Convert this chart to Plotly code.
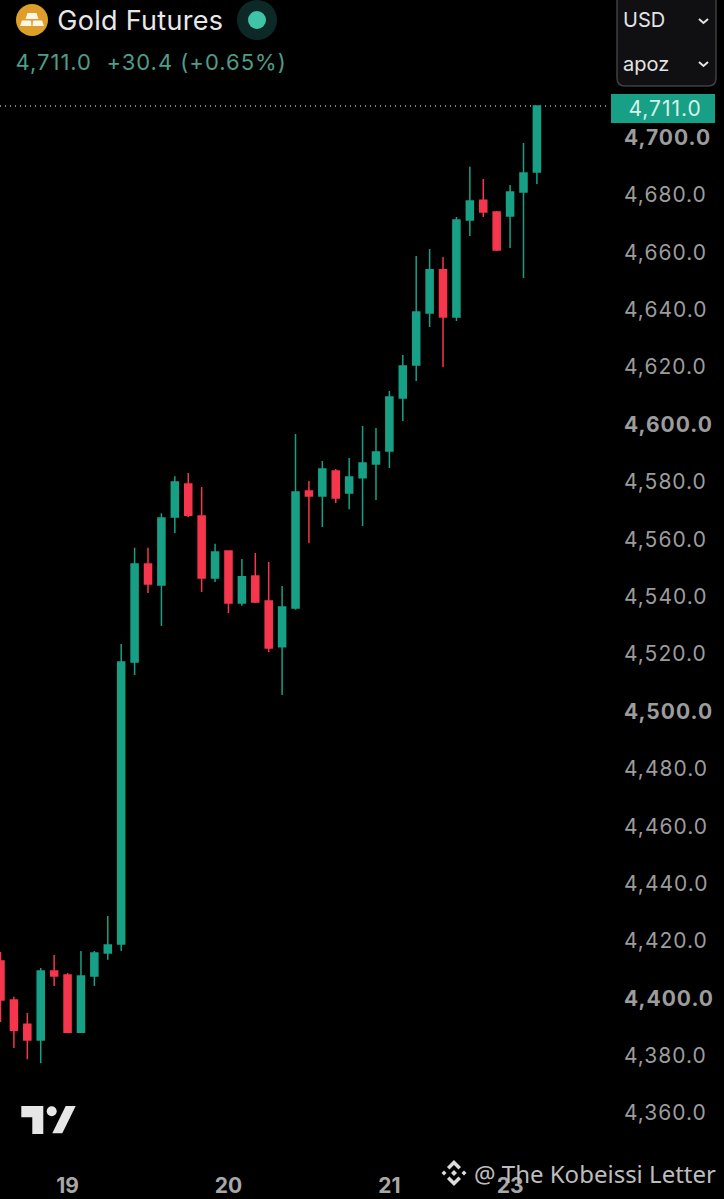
import plotly.graph_objects as go

# candle slots
idx = list(range(41))
opens = [4413.0, 4399.4, 4391.0, 4385.5, 4409.5, 4408.1, 4388.2, 4407.8, 4415.8, 4418.9,
         4517.2, 4551.4, 4544.1, 4567.8, 4579.3, 4568.1, 4546.5, 4555.9, 4537.8, 4547.2,
         4538.5, 4522.5, 4536.0, 4576.8, 4575.1, 4583.8, 4576.1, 4581.4, 4586.2, 4590.8,
         4609.2, 4620.7, 4638.9, 4653.9, 4637.5, 4671.3, 4678.2, 4674.1, 4672.7, 4681.0, 4688.0]
highs = [4416.1, 4400.5, 4394.9, 4410.6, 4415.1, 4408.8, 4416.5, 4416.5, 4428.7, 4523.5,
         4557.0, 4557.0, 4569.1, 4582.0, 4583.1, 4578.2, 4558.4, 4555.9, 4553.1, 4555.2,
         4552.1, 4543.7, 4596.7, 4580.3, 4587.3, 4584.5, 4588.3, 4599.5, 4598.8, 4611.7,
         4624.2, 4658.7, 4661.2, 4658.4, 4672.3, 4689.8, 4685.6, 4674.4, 4683.5, 4698.1, 4711.0]
lows = [4391.7, 4382.7, 4378.8, 4377.4, 4404.3, 4387.9, 4388.2, 4404.3, 4413.4, 4416.5,
        4512.7, 4541.3, 4529.8, 4562.2, 4567.8, 4541.6, 4545.1, 4534.3, 4536.8, 4537.8,
        4520.7, 4505.7, 4535.4, 4558.7, 4564.3, 4572.6, 4570.5, 4564.6, 4573.7, 4584.8,
        4601.2, 4615.2, 4634.0, 4620.0, 4636.1, 4665.7, 4672.3, 4660.5, 4661.5, 4651.1, 4683.8]
closes = [4399.4, 4388.9, 4385.5, 4409.5, 4407.8, 4388.2, 4407.8, 4415.8, 4418.6, 4517.2,
          4551.4, 4544.4, 4567.4, 4580.0, 4568.4, 4546.5, 4555.6, 4537.8, 4546.9, 4538.1,
          4522.1, 4536.4, 4576.5, 4575.1, 4584.5, 4574.4, 4581.7, 4586.6, 4590.4, 4609.6,
          4620.4, 4639.2, 4653.9, 4637.5, 4671.3, 4677.9, 4674.1, 4660.8, 4681.0, 4687.7, 4711.0]

day_ticks = [5, 17, 29, 38]
day_labels = ['19', '20', '21', '23']
price_ticks = [4360, 4380, 4400, 4420, 4440, 4460, 4480, 4500, 4520, 4540, 4560, 4580,
               4600, 4620, 4640, 4660, 4680, 4700]
price_labels = ['4,360.0', '4,380.0', '<b>4,400.0</b>', '4,420.0', '4,440.0', '4,460.0', '4,480.0',
                '<b>4,500.0</b>', '4,520.0', '4,540.0', '4,560.0', '4,580.0', '<b>4,600.0</b>',
                '4,620.0', '4,640.0', '4,660.0', '4,680.0', '<b>4,700.0</b>']
last_price = 4711.0

GREEN = '#17a086'
RED = '#f5364c'
PLOT_W = 612
PLOT_H = 1165


def px(x):
    return x / PLOT_W


def py(y):
    return 1 - y / PLOT_H


def poly(points):
    return 'M' + ' L'.join(f'{px(x):.5f},{py(y):.5f}' for x, y in points) + ' Z'


def open_line(points):
    return 'M' + ' L'.join(f'{px(x):.5f},{py(y):.5f}' for x, y in points)


def circle(cx, cy, r, color):
    return dict(type='circle', xref='paper', yref='paper', x0=px(cx - r), x1=px(cx + r),
                y0=py(cy - r), y1=py(cy + r), fillcolor=color, line_width=0)


def fill_path(path, color):
    return dict(type='path', xref='paper', yref='paper', path=path, fillcolor=color, line_width=0)


def label(x, y, text, size, color, family='Inter', anchor='left'):
    return dict(xref='paper', yref='paper', x=px(x), y=py(y), text=text, showarrow=False,
                xanchor=anchor, yanchor='middle', xshift=0, yshift=0,
                font=dict(size=size, color=color, family=family))


fig = go.Figure(go.Candlestick(
    x=idx, open=opens, high=highs, low=lows, close=closes,
    increasing=dict(line=dict(color=GREEN, width=1.5), fillcolor=GREEN),
    decreasing=dict(line=dict(color=RED, width=1.5), fillcolor=RED),
    whiskerwidth=0,
))

shapes = []
# last price line and tag
shapes.append(dict(type='line', xref='paper', yref='y', x0=0, x1=px(610), y0=last_price, y1=last_price,
                   line=dict(color='#a8a8a8', width=1.5, dash='1px,4px'), layer='below'))
shapes.append(dict(type='rect', xref='paper', yref='paper', x0=px(611), x1=px(715), y0=py(123), y1=py(94),
                   fillcolor=GREEN, line_width=0))
# dropdown box
shapes.append(dict(type='path', xref='paper', yref='paper',
                   path=f'M{px(617)},{py(-5)} L{px(617)},{py(78)} Q{px(617)},{py(86)} {px(625)},{py(86)} '
                        f'L{px(708)},{py(86)} Q{px(716)},{py(86)} {px(716)},{py(78)} L{px(716)},{py(-5)} Z',
                   fillcolor='#101012', line=dict(color='#3f3f42', width=1.5)))
for cy in [21, 64]:
    shapes.append(dict(type='path', xref='paper', yref='paper', path=open_line([(699, cy - 2), (703.5, cy + 2), (708, cy - 2)]),
                       line=dict(color='#e4e4e4', width=2)))
# gold icon
shapes.append(circle(32, 20, 16, '#dd9f2a'))
shapes.append(fill_path(poly([(27.5, 13), (36.5, 13), (38.5, 19), (25.5, 19)]), '#fdf6e6'))
shapes.append(fill_path(poly([(22, 20.5), (31, 20.5), (31.5, 26), (20, 26)]), '#fdf6e6'))
shapes.append(fill_path(poly([(33, 20.5), (42, 20.5), (44, 26), (32.5, 26)]), '#fdf6e6'))
# status dot
shapes.append(circle(257, 20, 20, '#0d2927'))
shapes.append(circle(257, 20, 9, '#3fc4a8'))
# TradingView mark
shapes.append(fill_path(poly([(21.3, 1106), (43.3, 1106), (43.3, 1134), (32.3, 1134), (32.3, 1117.3), (21.3, 1117.3)]), '#e6e6e6'))
shapes.append(circle(51.7, 1111.3, 5, '#e6e6e6'))
shapes.append(fill_path(poly([(65.7, 1106), (75.7, 1106), (62.3, 1133.3), (52.3, 1133.3)]), '#e6e6e6'))
# Binance mark
bx, by = 454, 1173
shapes.append(fill_path(poly([(bx, by - 13), (bx + 7, by - 6), (bx + 4.5, by - 3.5), (bx, by - 8), (bx - 4.5, by - 3.5), (bx - 7, by - 6)]), '#dcdcdc'))
shapes.append(fill_path(poly([(bx, by + 13), (bx + 7, by + 6), (bx + 4.5, by + 3.5), (bx, by + 8), (bx - 4.5, by + 3.5), (bx - 7, by + 6)]), '#dcdcdc'))
shapes.append(fill_path(poly([(bx, by - 3), (bx + 3, by), (bx, by + 3), (bx - 3, by)]), '#dcdcdc'))
shapes.append(fill_path(poly([(bx - 10, by - 2.5), (bx - 7.5, by), (bx - 10, by + 2.5), (bx - 12.5, by)]), '#dcdcdc'))
shapes.append(fill_path(poly([(bx + 10, by - 2.5), (bx + 12.5, by), (bx + 10, by + 2.5), (bx + 7.5, by)]), '#dcdcdc'))

annotations = [
    label(56.5, 21, 'Gold Futures', 27, '#e8e8e8'),
    label(25, 62, '4,711.0&nbsp;&nbsp;+30.4 (+0.65%)', 22, '#4e9c8a'),
    label(621, 20, 'USD', 20, '#e4e4e4'),
    label(621, 64, 'apoz', 20, '#e4e4e4'),
    label(630.5, 108, '4,711.0', 21, '#d8f0ea'),
    label(471.5, 1173, '@ The Kobeissi Letter', 24, '#bdbdbd', family='Noto Sans'),
]

fig.update_layout(
    width=724, height=1199,
    margin=dict(l=0, r=112, t=0, b=34),
    paper_bgcolor='black', plot_bgcolor='black',
    showlegend=False, boxgap=0.25,
    shapes=shapes, annotations=annotations,
    font=dict(family='Inter', color='#9c9c9c'),
)
fig.update_xaxes(range=[-0.037, 45.6], rangeslider_visible=False, showgrid=False, zeroline=False,
                 showline=False, tickmode='array', tickvals=day_ticks, ticktext=[f'<b>{d}</b>' for d in day_labels],
                 ticks='', ticklabelstandoff=6, tickfont=dict(size=21, color='#a8a8a8'))
fig.update_yaxes(range=[4341.9, 4747.96], side='right', showgrid=False, zeroline=False, showline=False,
                 tickmode='array', tickvals=price_ticks, ticktext=price_labels, ticks='',
                 ticklabelstandoff=11, tickfont=dict(size=21, color='#9c9c9c'))

# letter spacing of the price labels is wider than the plain font
css = ('.ytick text{letter-spacing:1px;font-variant-numeric:tabular-nums}'
       '.annotation[data-index="0"] text{letter-spacing:0.3px}'
       '.annotation[data-index="1"] text{letter-spacing:1px;font-variant-numeric:tabular-nums}'
       '.annotation[data-index="4"] text{letter-spacing:1px;font-variant-numeric:tabular-nums}')
post = ("document.body.style.margin='0';document.body.style.background='black';"
        "var s=document.createElement('style');s.textContent='" + css + "';document.head.appendChild(s);")
fig.write_html('out.html', post_script=post, config={'displayModeBar': False})
print('ok')
